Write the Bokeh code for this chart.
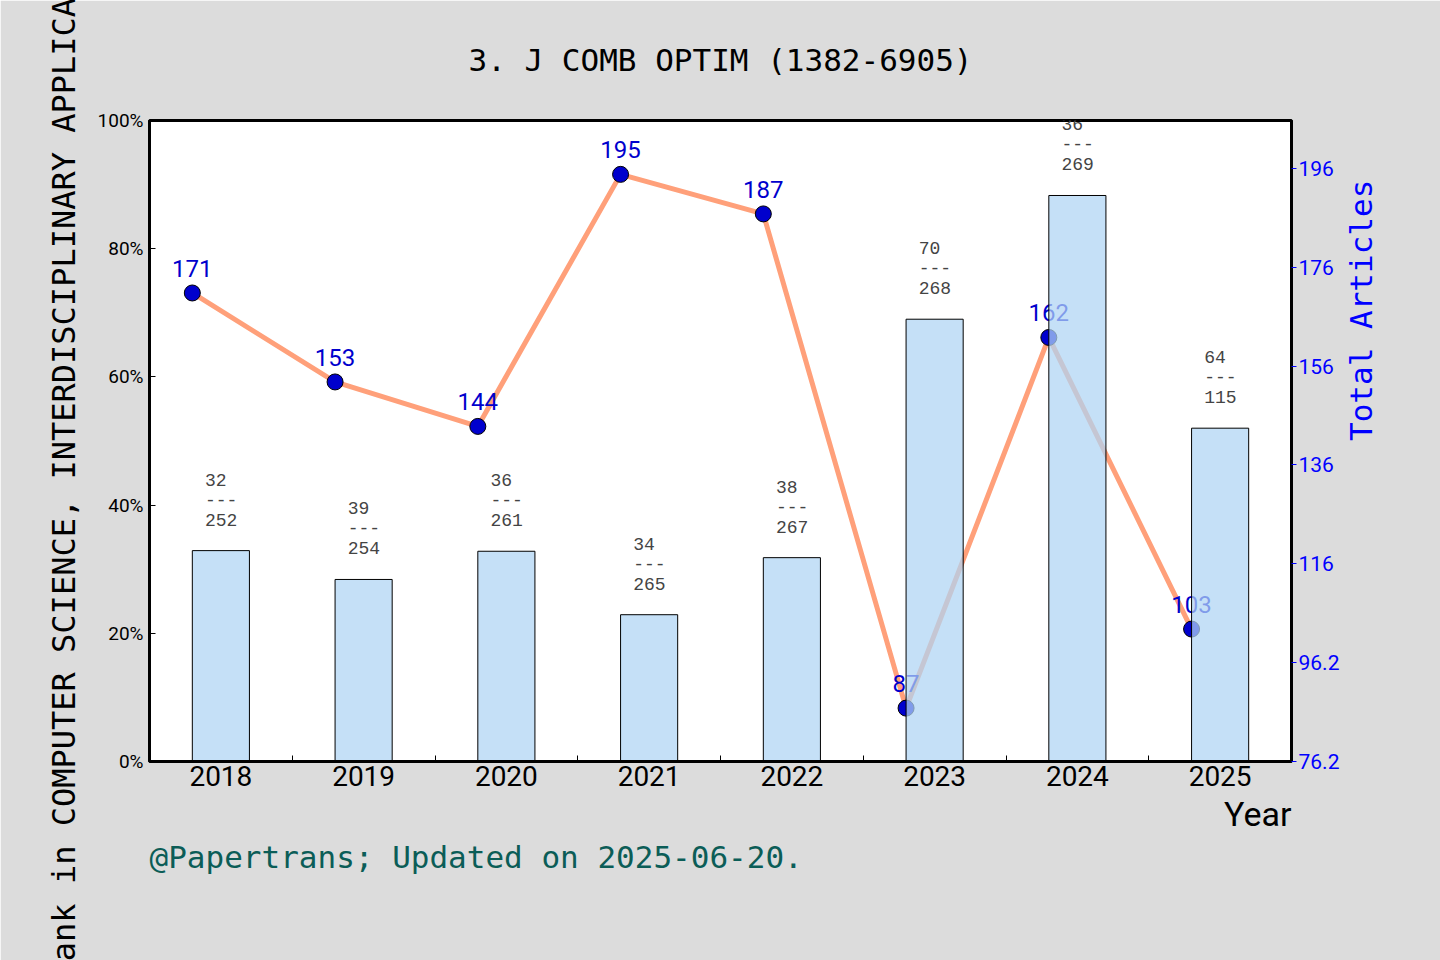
import math
from bokeh.plotting import figure
from bokeh.models import (Range1d, LinearAxis, FixedTicker, ColumnDataSource, LabelSet,
                          Title, CustomJSTickFormatter, PrintfTickFormatter)
from bokeh.core.properties import value
from bokeh.embed import file_html
from bokeh.resources import INLINE

# ---- data ----
years = ["2018", "2019", "2020", "2021", "2022", "2023", "2024", "2025"]
rank = [32, 39, 36, 34, 38, 70, 36, 64]
total_journals = [252, 254, 261, 265, 267, 268, 269, 115]
rank_pct = [32.9, 28.4, 32.8, 22.9, 31.8, 69.0, 88.3, 52.0]
articles = [171, 153, 144, 195, 187, 87, 162, 103]
left_ticks = [0, 20, 40, 60, 80, 100]
right_ticks = [76.2, 96.2, 116.2, 136.2, 156.2, 176.2, 196.2]
right_tick_labels = ["76.2", "96.2", "116", "136", "156", "176", "196"]
title_text = "3. J COMB OPTIM (1382-6905)"
footer_text = "@Papertrans; Updated on 2025-06-20."
left_label = "Rank in COMPUTER SCIENCE, INTERDISCIPLINARY APPLICATIONS"
right_label = "Total Articles"

n = len(years)
xb = [i + 0.5 for i in range(n)]
xp = [i + 0.3 for i in range(n)]
bar_text = [f"{r}\n---\n{t}" for r, t in zip(rank, total_journals)]

MONO = "DejaVu Sans Mono"
SANS = "Roboto"

p = figure(width=1440, height=960, x_range=Range1d(0, n), y_range=Range1d(0, 100),
           output_backend="svg", toolbar_location=None,
           min_border_left=149, min_border_right=149, min_border_top=119, min_border_bottom=199)
p.background_fill_color = "white"
p.border_fill_color = "#dcdcdc"
p.outline_line_color = "black"
p.outline_line_width = 3
p.xgrid.visible = False
p.ygrid.visible = False
p.extra_y_ranges = {"art": Range1d(76.2, 205.9)}

# title
p.title.text = title_text
p.title.align = "center"
p.title.vertical_align = "top"
p.title.text_font = MONO
p.title.text_font_size = "31px"
p.title.text_font_style = "normal"
p.title.text_color = "black"
p.title.standoff = 82

# left axis
ya = p.yaxis[0]
ya.ticker = FixedTicker(ticks=left_ticks)
ya.formatter = PrintfTickFormatter(format="%d%%")
ya.axis_line_width = 3
ya.major_tick_in = 6
ya.major_tick_out = 0
ya.minor_tick_in = 0
ya.minor_tick_out = 0
ya.major_label_text_font = SANS
ya.major_label_text_font_size = "19px"
ya.major_label_text_color = "black"
ya.major_label_standoff = 6
ya.axis_label = left_label
ya.axis_label_text_font = MONO
ya.axis_label_text_font_style = "normal"
ya.axis_label_text_font_size = "32px"
ya.axis_label_text_color = "black"
ya.axis_label_standoff = 12

# bottom axis
xa = p.xaxis[0]
xa.ticker = FixedTicker(ticks=xb, minor_ticks=list(range(1, n)))
xa.formatter = CustomJSTickFormatter(args=dict(yrs=years), code="return yrs[Math.floor(tick)];")
xa.axis_line_width = 3
xa.major_tick_in = 0
xa.major_tick_out = 0
xa.minor_tick_in = 6
xa.minor_tick_out = 0
xa.minor_tick_line_color = "black"
xa.major_label_text_font = SANS
xa.major_label_text_font_size = "28px"
xa.major_label_text_color = "black"
xa.major_label_standoff = 4

# right axis (ticks)
ra = LinearAxis(y_range_name="art")
ra.ticker = FixedTicker(ticks=right_ticks)
ra.formatter = CustomJSTickFormatter(
    args=dict(tvals=right_ticks, tlabels=right_tick_labels),
    code="const i = tvals.findIndex(t => Math.abs(t - tick) < 1e-6); return i >= 0 ? tlabels[i] : '';")
ra.axis_line_width = 3
ra.major_tick_in = 0
ra.major_tick_out = 5
ra.major_tick_line_color = "blue"
ra.minor_tick_in = 0
ra.minor_tick_out = 0
ra.major_label_text_color = "blue"
ra.major_label_text_font = SANS
ra.major_label_text_font_size = "21px"
ra.major_label_standoff = 2
p.add_layout(ra, "right")

# right axis title (label-only axis, reading bottom-to-top)
rl = LinearAxis(y_range_name="art", ticker=FixedTicker(ticks=[]))
rl.axis_line_color = None
rl.major_tick_line_color = None
rl.minor_tick_line_color = None
rl.major_label_text_font_size = "0px"
rl.axis_label = right_label
rl.axis_label_text_color = "blue"
rl.axis_label_text_font = MONO
rl.axis_label_text_font_style = "normal"
rl.axis_label_text_font_size = "31px"
rl.axis_label_standoff = 18
rl.axis_label_orientation = math.pi / 2
p.add_layout(rl, "right")

# line + points + labels (under bars)
src_p = ColumnDataSource(dict(x=xp, y=articles, t=[str(a) for a in articles]))
p.line("x", "y", source=src_p, y_range_name="art", line_color="#FFA07A", line_width=5)
p.scatter("x", "y", source=src_p, y_range_name="art", size=16,
          fill_color="#0000CD", line_color="black", line_width=1)
p.text("x", "y", text="t", source=src_p, y_range_name="art", text_color="#0000CD",
       text_font=value(SANS), text_font_size="24px", text_align="center",
       text_baseline="bottom", y_offset=-16)

# bars
src_b = ColumnDataSource(dict(x=xb, top=rank_pct, t=bar_text))
p.vbar(x="x", top="top", bottom=0, width=0.4, source=src_b,
       fill_color="#afd4f4", fill_alpha=0.73, line_color="black", line_width=1)
p.add_layout(LabelSet(x="x", y="top", text="t", source=src_b, text_align="left",
                      x_offset=-16, y_offset=20, text_baseline="bottom",
                      text_font=value("Liberation Mono"), text_font_size="18px",
                      text_color="#444444", text_line_height=1.0))

# texts below the axis
p.add_layout(Title(text="Year", align="right", text_font=SANS, text_font_size="34px",
                   text_font_style="normal", text_color="black", standoff=6), "below")
p.add_layout(Title(text=footer_text, align="left", text_font=MONO, text_font_size="31px",
                   text_font_style="normal", text_color="#0b5d57", standoff=0), "below")

open("out.html", "w").write(file_html(p, INLINE))
